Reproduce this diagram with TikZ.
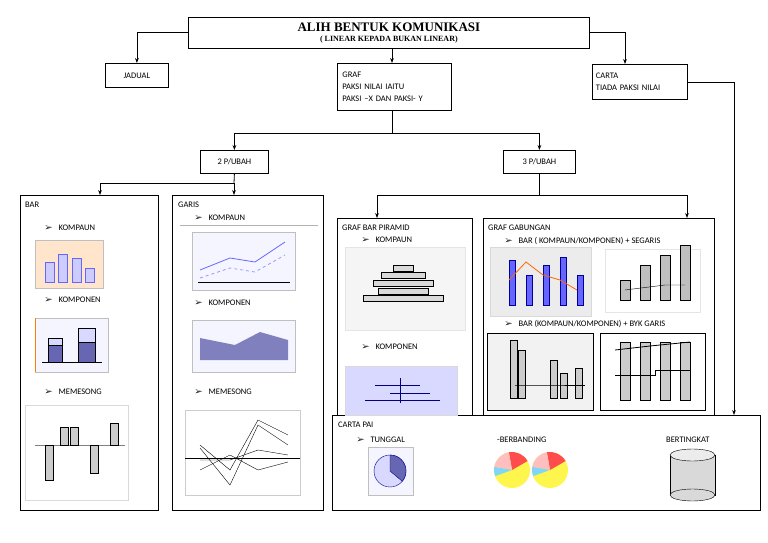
\documentclass[tikz,border=0pt]{standalone}
\usepackage{fontspec}
\setmainfont{Carlito}
\newfontfamily\ttl{Liberation Serif}
\usepackage{pifont}
\usetikzlibrary{arrows.meta}
\newcommand{\bul}{{\footnotesize\ding{226}}\hspace{6pt}}
\begin{document}
\begin{tikzpicture}[x=1pt,y=-1pt,
  box/.style={draw,thick,fill=white},
  con/.style={thick,-{Stealth[length=5pt]}},
  lbl/.style={anchor=west,font=\fontsize{8.5}{9}\selectfont,inner sep=0},
  img/.style={draw=gray!50,fill=blue!4}]
\useasboundingbox (0,0) rectangle (768,543);
% top boxes
\node[box,minimum width=401,minimum height=31,anchor=north west,align=center,font=\ttl\bfseries] (t) at (188,17) {{\fontsize{13}{14}\selectfont ALIH BENTUK KOMUNIKASI}\\[-2pt]{\fontsize{8}{9}\selectfont ( LINEAR KEPADA BUKAN LINEAR)}};
\node[box,minimum width=63,minimum height=24,anchor=north west,font=\fontsize{8.5}{9}\selectfont] (j) at (105,63) {JADUAL};
\node[box,minimum width=114,minimum height=47,anchor=north west,align=left,font=\fontsize{8.5}{12}\selectfont,text width=104] (g) at (337,63) {GRAF\\PAKSI NILAI IAITU\\PAKSI –X DAN PAKSI- Y};
\node[box,minimum width=95,minimum height=35,anchor=north west,align=left,font=\fontsize{8.5}{12}\selectfont,text width=88] (c) at (592,64) {CARTA\\TIADA PAKSI NILAI};
\node[box,minimum width=68,minimum height=23,anchor=north west,font=\fontsize{8.5}{9}\selectfont] (p2) at (200,150) {2 P/UBAH};
\node[box,minimum width=72,minimum height=23,anchor=north west,font=\fontsize{8.5}{9}\selectfont] (p3) at (503,150) {3 P/UBAH};
% panels
\node[box,minimum width=138,minimum height=315,anchor=north west] (bar) at (20,195) {};
\node[box,minimum width=151,minimum height=315,anchor=north west] (gar) at (172,195) {};
\node[box,minimum width=135,minimum height=205,anchor=north west] (pir) at (337,218) {};
\node[box,minimum width=231,minimum height=205,anchor=north west] (gab) at (483,218) {};
\node[box,minimum width=428,minimum height=95,anchor=north west] (pai) at (332,415) {};
% connectors
\draw[con] (t.west) -| (j.north);
\draw[con] (t.south -| 392,0) -- (g.north -| 392,0);
\draw[con] (t.east) -| (c.north -| 625,0);
\coordinate (h1) at (392,133);
\draw[thick] (g.south -| h1) -- (h1);
\draw[con] (h1) -| (p2.north);
\draw[con] (h1) -| (p3.north);
\coordinate (h2) at (234,183);
\draw[thick] (p2.south) -- (h2);
\draw[con] (h2) -| (100,195);
\draw[con] (h2) -- (234,195);
\coordinate (h3) at (p3.south |- 0,195);
\draw[thick] (p3.south) -- (h3);
\draw[con] (h3) -| (377,218);
\draw[con] (h3) -| (687,218);
\draw[con] (c.east) -| (734,415);
% BAR panel
\node[lbl] at (25,205) {BAR};
\node[lbl] at (45,228) {\bul KOMPAUN};
\draw[img,fill=orange!20] (35,240) rectangle (103,288);
\foreach \x/\h in {45/20,58/28,72/24,85/14}{\draw[blue!60,fill=blue!20] (\x,282) rectangle ++(9,-\h);}
\node[lbl] at (45,300) {\bul KOMPONEN};
\draw[img] (35,318) rectangle (108,372);
\draw[orange] (35,318) -- (35,372);
\draw[fill=blue!50!black!60] (48,362) rectangle (62,345);\draw[fill=blue!15] (48,345) rectangle (62,338);
\draw[fill=blue!50!black!60] (78,362) rectangle (95,342);\draw[fill=blue!15] (78,342) rectangle (95,328);
\draw (42,362) -- (102,362);
\node[lbl] at (45,392) {\bul MEMESONG};
\draw[draw=gray!30,fill=white] (25,405) rectangle (128,500);
\draw[gray] (35,445) -- (125,445);
\foreach \x/\h in {45/35,60/-18,70/-18,90/28,110/-22}{\draw[fill=gray!40] (\x,445) rectangle ++(8,\h);}
% GARIS panel
\node[lbl] at (178,205) {GARIS};
\node[lbl] at (195,218) {\bul KOMPAUN};
\draw[gray!60] (180,225) -- (318,225);
\draw[img] (192,232) rectangle (295,290);
\draw[blue!60,thick] (200,270) -- (230,258) -- (255,262) -- (285,242);
\draw[blue!40,thick,dashed] (200,278) -- (230,268) -- (255,272) -- (285,255);
\draw (198,282) -- (290,282);
\node[lbl] at (195,303) {\bul KOMPONEN};
\draw[img] (192,320) rectangle (295,372);
\fill[blue!50!black!50] (200,360) -- (200,338) -- (235,345) -- (260,332) -- (288,340) -- (288,360) -- cycle;
\node[lbl] at (195,392) {\bul MEMESONG};
\draw[gray!40] (185,410) rectangle (300,495);
\draw (185,458) -- (300,458);
\draw (200,445) -- (230,470) -- (258,420) -- (288,435);
\draw (200,448) -- (230,485) -- (258,425) -- (288,445);
\draw (200,460) -- (230,460) -- (258,450) -- (288,455);
\draw (200,470) -- (230,455) -- (258,470) -- (288,462);
% PIRAMID panel
\node[lbl] at (342,228) {GRAF BAR PIRAMID};
\node[lbl] at (362,240) {\bul KOMPAUN};
\draw[draw=gray!20,fill=gray!8] (345,247) rectangle (465,330);
\foreach \y/\w in {265/10,272/22,280/30,288/25,295/40}{\draw[fill=gray!30] (403-\w,\y) rectangle (403+\w,\y+6);}
\node[lbl] at (362,347) {\bul KOMPONEN};
\draw[draw=gray!30,fill=blue!15] (345,366) rectangle (457,415);
\draw[blue!50!black] (365,400) -- (440,400) (400,403) -- (400,378) (390,385) -- (420,385) (390,393) -- (430,393) (375,385) -- (395,385);
% GABUNGAN panel
\node[lbl] at (488,228) {GRAF GABUNGAN};
\node[lbl] at (505,241) {\bul BAR ( KOMPAUN/KOMPONEN) + SEGARIS};
\draw[draw=gray!30,fill=gray!15] (490,247) rectangle (591,316);
\foreach \x/\h in {513/45,530/30,547/40,564/48,581/30}{\draw[blue!60!black,fill=blue!60] (\x-4,305) rectangle ++(6,-\h);}
\draw[orange!80!red,thick] (509,280) -- (526,262) -- (543,275) -- (560,280) -- (577,290);
\draw[draw=gray!20,fill=white] (605,249) rectangle (700,312);
\foreach \x/\h in {620/20,640/35,660/45,680/55}{\draw[fill=gray!50] (\x,300) rectangle ++(10,-\h);}
\draw (625,290) -- (665,285) -- (685,285);
\node[lbl] at (505,324) {\bul BAR (KOMPAUN/KOMPONEN) + BYK GARIS};
\draw[thick,fill=gray!10] (487,333) rectangle (593,410);
\foreach \x/\h in {510/58,518/48,550/38,560/25,575/30}{\draw[fill=gray!40] (\x,398) rectangle ++(7,-\h);}
\draw (515,385) -- (545,385) -- (585,385);
\draw[thick,fill=white] (600,333) rectangle (705,410);
\foreach \x in {620,640,660,680}{\draw[fill=gray!40] (\x,400) rectangle ++(10,-58);}
\draw[thick] (615,350) -- (650,346) -- (690,342);
\draw[thick] (615,375) -- (655,375) -- (655,370) -- (690,370);
% CARTA PAI
\node[lbl] at (338,425) {CARTA PAI};
\node[lbl] at (357,440) {\bul TUNGGAL};
\draw[img] (368,447) rectangle (413,495);
\draw[blue!60!black,fill=blue!15] (390,471) circle (16);
\draw[blue!60!black,fill=blue!50!black!60] (390,471) -- (390,455) arc (-90:40:16) -- cycle;
\node[lbl] at (497,440) {-BERBANDING};
\foreach \cx in {512,550}{
 \fill[yellow!70] (\cx,470) circle (18);
 \fill[red!70] (\cx,470) -- ++(-30:18) arc (-30:-100:18) -- cycle;
 \fill[pink] (\cx,470) -- ++(-100:18) arc (-100:-170:18) -- cycle;
 \fill[cyan!50] (\cx,470) -- ++(-170:18) arc (-170:-200:18) -- cycle;}
\node[lbl] at (666,440) {BERTINGKAT};
\draw[fill=gray!30] (670,455) rectangle (715,495);
\draw[fill=gray!15] (692.5,455) ellipse (22.5 and 6);
\draw[fill=gray!30] (692.5,495) ellipse (22.5 and 6);
\end{tikzpicture}
\end{document}
